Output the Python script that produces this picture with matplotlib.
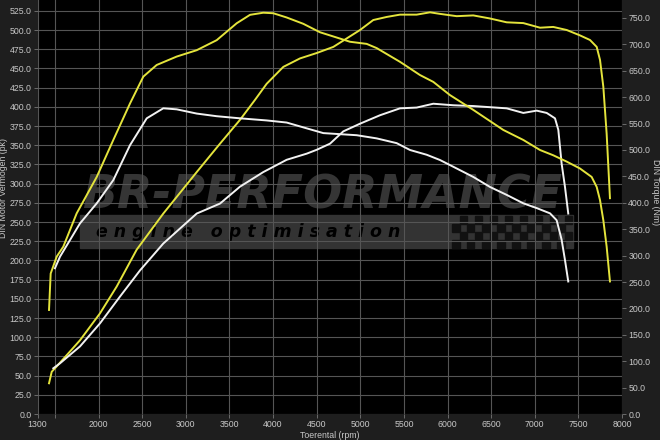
import matplotlib
matplotlib.use("Agg")
import matplotlib.pyplot as plt
from matplotlib.patches import Rectangle

plt.rcParams['font.family'] = ['Liberation Sans', 'DejaVu Sans']

# tuned power (pk, left axis)
rpm_tuned_pk = [1432, 1463, 1520, 1787, 2016, 2208, 2437, 2742, 3125, 3392, 3621, 3793, 3927,
                4118, 4309, 4500, 4691, 4844, 4997, 5149, 5303, 5455, 5646, 5799, 5914, 6105,
                6295, 6487, 6678, 6869, 7060, 7212, 7366, 7518, 7633, 7710, 7748, 7786, 7824, 7862]
tuned_pk = [40, 55, 62, 96, 131, 166, 214, 261, 315, 352, 383, 409, 430,
            452, 463, 470, 478, 489, 500, 513, 517, 520, 520, 523, 521, 518,
            519, 515, 510, 509, 503, 504, 500, 493, 487, 478, 461, 426, 365, 281]

# tuned torque (Nm, right axis)
rpm_tuned_nm = [1432, 1451, 1520, 1596, 1749, 1979, 2169, 2360, 2513, 2666, 2896, 3125, 3354,
                3583, 3736, 3888, 4003, 4156, 4347, 4538, 4730, 4882, 5073, 5188, 5455, 5684,
                5837, 6028, 6295, 6639, 6869, 7060, 7212, 7366, 7518, 7652, 7710, 7748, 7786,
                7824, 7862]
tuned_nm = [197, 266, 298, 317, 380, 449, 519, 588, 639, 661, 677, 689, 708,
            740, 756, 760, 759, 751, 739, 723, 713, 705, 701, 693, 667, 642,
            629, 604, 576, 538, 519, 500, 490, 478, 465, 449, 430, 405, 367,
            317, 251]

# stock power (pk, left axis)
rpm_stock_pk = [1481, 1558, 1787, 2016, 2246, 2475, 2742, 3125, 3392, 3621, 3888, 4156, 4386,
                4500, 4653, 4805, 4997, 5226, 5455, 5646, 5837, 6066, 6295, 6678, 6869, 7022,
                7137, 7232, 7270, 7308, 7346, 7384]
stock_pk = [59.5, 66, 88, 118, 153, 187, 222, 261, 274, 296, 315, 331, 339,
            344, 352, 368, 378, 389, 398, 399, 404, 402, 401, 398, 392, 395,
            392, 385, 370, 326, 296, 261]

# stock torque (Nm, right axis)
rpm_stock_nm = [1500, 1558, 1787, 1979, 2169, 2360, 2552, 2742, 2896, 3125, 3354, 3621, 3927,
                4156, 4386, 4576, 4768, 4959, 5188, 5417, 5570, 5761, 5914, 6105, 6295, 6487,
                6678, 6869, 7022, 7175, 7251, 7308, 7346, 7384]
stock_nm = [276, 298, 361, 399, 443, 509, 560, 579, 577, 569, 564, 560, 556,
            552, 541, 532, 530, 528, 522, 513, 500, 491, 481, 465, 449, 430,
            415, 399, 390, 380, 367, 330, 292, 251]

x_ticks = [1300, 1500, 2000, 2500, 3000, 3500, 4000, 4500, 5000, 5500, 6000, 6500, 7000, 7500, 8000]
x_labels = ['1300', ''] + [str(v) for v in x_ticks[2:]]

yellow = '#e4e43c'
white = '#f2f2f2'
txt = '#c8c8c8'
fs = 6.3

fig = plt.figure(figsize=(6.6, 4.4), dpi=100, facecolor='#1e1e1e')
ax = fig.add_axes([37.5 / 660, 26 / 440, 584.5 / 660, 422.4 / 440])
ax.set_facecolor('black')
ax2 = ax.twinx()

# watermark, drawn behind the grid and the curves
ftr = fig.transFigure
ax.add_patch(Rectangle((80 / 660, 1 - 248 / 440), 493 / 660, 33 / 440,
                       transform=ftr, color='#333333', zorder=0.1))
for i in range(16):
    for j in range(4):
        if (i + j) % 2 == 0:
            ax.add_patch(Rectangle(((452 + i * 7.5) / 660, 1 - (248 - j * 8) / 440), 7.5 / 660, 8 / 440,
                                   transform=ftr, color='#111111', zorder=0.15))
ax.text(0.125, 0.555, 'BR-PERFORMANCE', transform=ftr, fontsize=33,
        fontweight='heavy', fontstyle='italic', color='#353535', va='center',
        family='DejaVu Sans', zorder=0.2)
ax.text(0.145, 0.473, 'e n g i n e   o p t i m i s a t i o n', transform=ftr,
        fontsize=12.5, fontweight='bold', fontstyle='italic', color='black', va='center',
        family='DejaVu Sans', zorder=0.3)

ax.set_axisbelow(True)
ax.grid(True, color='#555555', linewidth=0.8)

ax.plot(rpm_tuned_pk, tuned_pk, color=yellow, lw=1.4, zorder=3)
ax.plot(rpm_stock_pk, stock_pk, color=white, lw=1.4, zorder=3)
ax2.plot(rpm_tuned_nm, tuned_nm, color=yellow, lw=1.4)
ax2.plot(rpm_stock_nm, stock_nm, color=white, lw=1.4)

ax.set_xlim(1300, 8000)
ax.set_ylim(0, 550)
ax2.set_ylim(0, 800)
ax.set_xticks(x_ticks)
ax.set_xticklabels(x_labels)
ax.set_yticks([v * 25 for v in range(22)])
ax.set_yticklabels(['%.1f' % (v * 25) for v in range(22)])
ax2.set_yticks([v * 50 for v in range(16)])
ax2.set_yticklabels(['%.1f' % (v * 50) for v in range(16)])

for a in (ax, ax2):
    a.tick_params(colors='#777777', labelcolor=txt, labelsize=fs, length=3, width=0.6, pad=1.5)
    for s in a.spines.values():
        s.set_visible(False)

ax.set_xlabel('Toerental (rpm)', color=txt, fontsize=fs, labelpad=1)
ax.set_ylabel('DIN Motor Vermogen (pk)', color=txt, fontsize=fs)
ax2.set_ylabel('DIN Torque (Nm)', color=txt, fontsize=fs, rotation=270, va='center')
ax.yaxis.set_label_coords(-0.051, 0.535)
ax2.yaxis.set_label_coords(1.058, 0.525)

fig.savefig('out.png', dpi=100, facecolor=fig.get_facecolor())
